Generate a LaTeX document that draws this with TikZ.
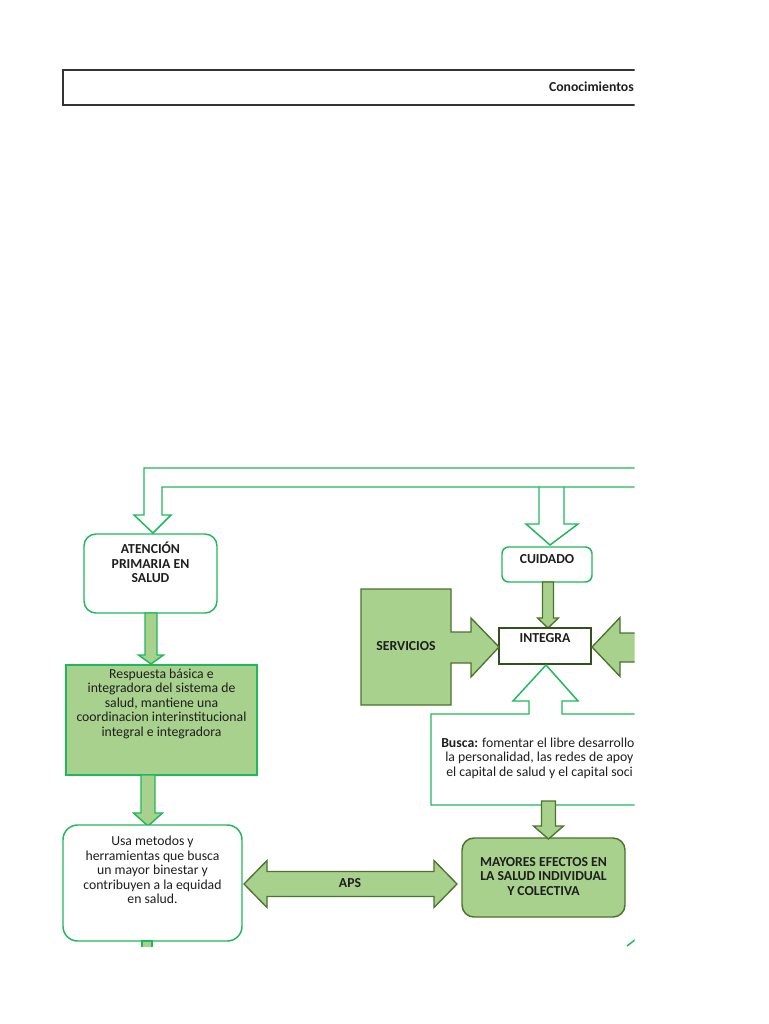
\documentclass[tikz,border=0pt]{standalone}
\usepackage{fontspec}
\setmainfont{Carlito}
\definecolor{lg}{RGB}{169,209,142}
\definecolor{gl}{RGB}{30,185,90}
\definecolor{dg}{RGB}{75,115,45}
\definecolor{tx}{RGB}{30,30,30}
\tikzset{
  txt/.style={font=\fontsize{10.3}{10.9}\selectfont, align=center, inner sep=0pt, text=tx},
  btxt/.style={txt, font=\fontsize{10.3}{10.9}\selectfont\bfseries},
  gline/.style={draw=gl, line width=1.1pt},
  gbox/.style={draw=gl, line width=1.1pt, fill=white, inner sep=0pt},
  fbox/.style={draw=gl, line width=1.5pt, fill=lg, inner sep=0pt},
  dbox/.style={draw=dg, line width=1.1pt, fill=lg, inner sep=0pt},
  garrow/.style={draw=gl, line width=1.1pt, fill=lg, line join=miter},
  darrow/.style={draw=dg, line width=1pt, fill=lg, line join=miter},
}
% down block arrow: style, xc, ytop, ytip, shaft half, head half, head length
\newcommand\dnarrow[7]{%
  \path[#1] (#2-#5,#3) -- (#2-#5,#4-#7) -- (#2-#6,#4-#7) -- (#2,#4) -- (#2+#6,#4-#7) -- (#2+#5,#4-#7) -- (#2+#5,#3) -- cycle;}
\begin{document}
\begin{tikzpicture}[x=0.75pt,y=-0.75pt]
\useasboundingbox (0,0) rectangle (768,1024);
\begin{scope}
\clip (0,0) rectangle (634.5,946.5);

% header
\draw[draw=black!80, line width=0.8pt] (63,70) rectangle (700,105);
\node[btxt, anchor=east] (head) at (634,86.5) {Conocimientos};

% top frame (return arrow to ATENCION)
\draw[gline, line join=miter] (640,468) -- (144,468) -- (144,515) -- (134,515) -- (153,533) -- (171,515) -- (162,515) -- (162,487) -- (640,487);
% arrow into CUIDADO
\draw[gline, line join=miter] (539,487) -- (539,524) -- (526,524) -- (550,545) -- (578,524) -- (564,524) -- (564,487);

% ATENCION box
\node[gbox, rounded corners=9pt, minimum width=99.75pt, minimum height=59.25pt] (aps) at (150.5,573.5) {};
\node[btxt] (apstext) at (150.5,562.5) {ATENCIÓN\\PRIMARIA EN\\SALUD};

% arrow ATENCION -> Respuesta
\dnarrow{garrow}{151}{613}{664}{6}{12.5}{9}

% Respuesta box
\node[fbox, minimum width=143.25pt, minimum height=82.5pt] (resp) at (161.5,720) {};
\node[txt] (resptext) at (161.5,703.5) {Respuesta básica e\\integradora del sistema de\\salud, mantiene una\\coordinacion interinstitucional\\integral e integradora};

% arrow Respuesta -> Usa
\dnarrow{garrow}{148}{775}{826}{7}{14.5}{13}

% Usa box
\node[gbox, rounded corners=11pt, minimum width=134.25pt, minimum height=87pt] (usa) at (152.5,883) {};
\node[txt] (usatext) at (152.5,870) {Usa metodos y\\herramientas que busca\\un mayor binestar y\\contribuyen a la equidad\\en salud.};

% stub below Usa
\path[garrow] (142,941) rectangle (152,952);

% APS double arrow
\path[darrow] (244,884) -- (267,860.5) -- (267,871.5) -- (434,871.5) -- (434,860.5) -- (457,884) -- (434,907.5) -- (434,896.5) -- (267,896.5) -- (267,907.5) -- cycle;
\node[btxt] (apslabel) at (350,883) {APS};

% MAYORES box
\node[dbox, rounded corners=9pt, minimum width=122.25pt, minimum height=59.25pt] (mayores) at (543.5,877.5) {};
\node[btxt] (mayorestext) at (543.5,876.5) {MAYORES EFECTOS EN\\LA SALUD INDIVIDUAL\\Y COLECTIVA};

% CUIDADO box
\node[gbox, rounded corners=5pt, minimum width=67.5pt, minimum height=26.25pt] (cuidado) at (547,564.5) {};
\node[btxt] (cuidadotext) at (547,559.5) {CUIDADO};

% arrow CUIDADO -> INTEGRA
\dnarrow{darrow}{548}{582}{628}{5.5}{10.5}{10}

% INTEGRA box
\node[draw=dg!70!black, line width=0.8pt, fill=white, inner sep=0pt, minimum width=69pt, minimum height=27pt] (integra) at (545,646) {};
\node[btxt] (integratext) at (545,638.5) {INTEGRA};

% SERVICIOS with arrow
\path[darrow] (361,589) -- (451,589) -- (451,632) -- (471,632) -- (471,618) -- (499,647) -- (471,677) -- (471,663) -- (451,663) -- (451,705) -- (361,705) -- cycle;
\node[btxt] (servicios) at (406,646) {SERVICIOS};

% arrow from the right into INTEGRA
\path[darrow] (592,647) -- (620,617.5) -- (620,633) -- (650,633) -- (650,662) -- (620,662) -- (620,676.5) -- cycle;

% Busca callout (up arrow to INTEGRA)
\draw[gline, line join=miter] (640,714) -- (562,714) -- (562,701) -- (578,701) -- (546,665) -- (513,701) -- (529,701) -- (529,714) -- (431,714) -- (431,805) -- (640,805);
\node[txt, anchor=west] (busca1) at (441,743) {\textbf{Busca:} fomentar el libre desarrollo};
\node[txt, anchor=west] (busca2) at (445,758) {la personalidad, las redes de apoy};
\node[txt, anchor=west] (busca3) at (446,773) {el capital de salud y el capital soci};

% arrow Busca -> MAYORES
\dnarrow{darrow}{548.5}{801}{839}{7}{15}{13}

% small clipped mark bottom right
\coordinate (m1) at (627,946);
\coordinate (m2) at (636,939);
\draw[gline] (m1) -- (m2);
\end{scope}
\end{tikzpicture}
\end{document}
